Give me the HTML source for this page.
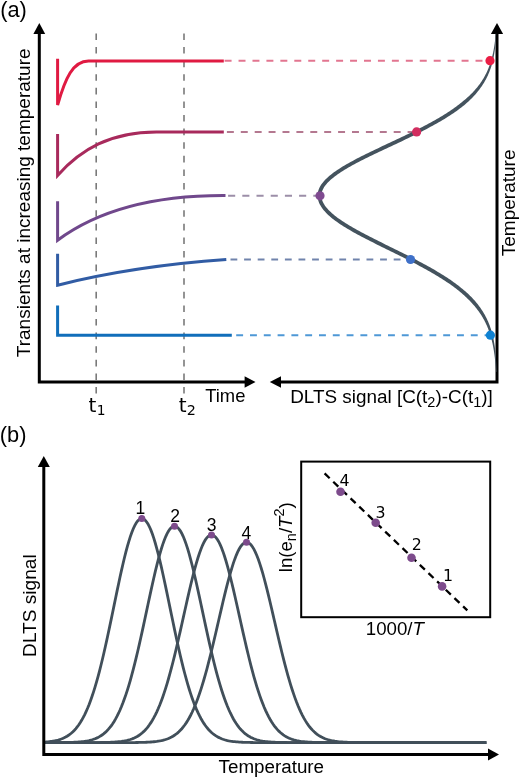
<!DOCTYPE html>
<html><head><meta charset="utf-8"><title>DLTS</title>
<style>
html,body{margin:0;padding:0;background:#fff;}
body{width:520px;height:778px;overflow:hidden;}
svg{display:block;}
text{font-family:"Liberation Sans",Arial,sans-serif;fill:#000;}
.dv{font-family:"DejaVu Sans",Verdana,sans-serif;}
</style></head><body>
<svg width="520" height="778" viewBox="0 0 520 778">
<rect width="520" height="778" fill="#fff"/>

<text x="0.2" y="16.9" font-size="21.8">(a)</text>
<text x="-0.2" y="442.2" font-size="21.8">(b)</text>
<line x1="96.2" y1="33.4" x2="96.2" y2="394.5" stroke="#7a7a7a" stroke-width="1.6" stroke-dasharray="6.6 7"/>
<line x1="184.0" y1="33.4" x2="184.0" y2="394.5" stroke="#7a7a7a" stroke-width="1.6" stroke-dasharray="6.6 7"/>
<line x1="224.6" y1="60.7" x2="490" y2="60.7" stroke="#E27590" stroke-width="2" stroke-dasharray="6.97 6.97"/>
<path d="M57.6,58.7 L57.6,105 C64.85,79.44 72.77,59.73 90,61 L223.8,61" fill="none" stroke="#E01A42" stroke-width="3" stroke-linejoin="miter" stroke-miterlimit="4"/>
<line x1="226.9" y1="131.9" x2="416.6" y2="131.9" stroke="#B47890" stroke-width="2" stroke-dasharray="6.95 6.95"/>
<path d="M57.6,134 L57.6,175.4 C80,150.23 110.23,131 160,132 L223.8,132" fill="none" stroke="#A82A5C" stroke-width="3" stroke-linejoin="miter" stroke-miterlimit="4"/>
<line x1="228.1" y1="195.8" x2="320" y2="195.8" stroke="#9C8EA8" stroke-width="2" stroke-dasharray="7.1 7.1"/>
<path d="M57.6,201.3 L57.6,240.3 C93.86,213.4 145.84,195.2 225.5,195.6" fill="none" stroke="#70488C" stroke-width="3" stroke-linejoin="miter" stroke-miterlimit="4"/>
<line x1="230.5" y1="259.5" x2="410.5" y2="259.5" stroke="#7083AC" stroke-width="2" stroke-dasharray="6.8 6.8"/>
<path d="M57.6,253.8 L57.6,285.2 C92,276.65 143.5,265.25 226.3,259.6" fill="none" stroke="#315CA4" stroke-width="3" stroke-linejoin="miter" stroke-miterlimit="4"/>
<line x1="236.2" y1="335.2" x2="490.4" y2="335.2" stroke="#4E98D6" stroke-width="2" stroke-dasharray="6.9 6.9"/>
<path d="M57.6,305.5 L57.6,335.2 L231.8,335.2" fill="none" stroke="#116EBA" stroke-width="3" stroke-linejoin="miter" stroke-miterlimit="4"/>
<path d="M39.3,33 L39.3,382 L246,382" fill="none" stroke="#000" stroke-width="3"/>
<polygon points="39.3,23 33.4,34 45.2,34" fill="#000"/>
<polygon points="255.5,382 244.6,376.2 244.6,387.8" fill="#000"/>
<path d="M497,33 L497,382 L280,382" fill="none" stroke="#000" stroke-width="3"/>
<polygon points="497,23 490.9,34 503.1,34" fill="#000"/>
<polygon points="269.8,382 281,376.2 281,387.8" fill="#000"/>
<path d="M496.17,33.51 L496.12,34.65 L496.06,35.78 L496,36.92 L495.94,38.05 L495.86,39.19 L495.79,40.33 L495.7,41.46 L495.61,42.6 L495.51,43.74 L495.4,44.88 L495.29,46.02 L495.16,47.16 L495.03,48.3 L494.88,49.44 L494.73,50.58 L494.57,51.72 L494.39,52.87 L494.2,54.01 L494,55.15 L493.79,56.3 L493.57,57.45 L493.33,58.59 L493.07,59.74 L492.8,60.89 L492.52,62.04 L492.22,63.19 L491.9,64.35 L491.56,65.5 L491.21,66.65 L490.83,67.81 L490.44,68.97 L490.02,70.12 L489.58,71.28 L489.12,72.44 L488.64,73.6 L488.13,74.76 L487.6,75.93 L487.04,77.09 L486.46,78.26 L485.85,79.42 L485.21,80.59 L484.55,81.75 L483.85,82.92 L483.13,84.09 L482.37,85.26 L481.58,86.43 L480.76,87.6 L479.91,88.77 L479.02,89.94 L478.1,91.11 L477.15,92.28 L476.16,93.45 L475.13,94.63 L474.07,95.8 L472.97,96.97 L471.83,98.14 L470.66,99.31 L469.44,100.48 L468.19,101.65 L466.9,102.82 L465.57,104 L464.2,105.16 L462.78,106.31 L461.31,107.46 L459.81,108.61 L458.26,109.75 L456.68,110.9 L455.06,112.04 L453.4,113.19 L451.7,114.33 L449.96,115.47 L448.18,116.62 L446.36,117.76 L444.51,118.9 L442.62,120.04 L440.69,121.18 L438.73,122.32 L436.73,123.46 L434.7,124.6 L432.64,125.74 L430.54,126.87 L428.41,128.01 L426.26,129.15 L424.07,130.29 L421.85,131.42 L419.61,132.56 L417.35,133.69 L415.06,134.83 L412.75,135.96 L410.42,137.1 L408.08,138.23 L405.72,139.37 L403.34,140.5 L400.95,141.64 L398.56,142.77 L396.15,143.9 L393.74,145.03 L391.33,146.17 L388.91,147.3 L386.5,148.43 L384.1,149.56 L381.7,150.69 L379.31,151.82 L376.93,152.95 L374.56,154.08 L372.22,155.21 L369.89,156.34 L367.59,157.47 L365.31,158.6 L363.07,159.73 L360.85,160.85 L358.67,161.98 L356.52,163.11 L354.42,164.23 L352.35,165.36 L350.34,166.48 L348.37,167.6 L346.45,168.72 L344.59,169.84 L342.78,170.96 L341.03,172.08 L339.34,173.19 L337.72,174.31 L336.16,175.42 L334.67,176.52 L333.26,177.63 L331.91,178.73 L330.64,179.83 L329.45,180.92 L328.34,182.01 L327.31,183.09 L326.36,184.17 L325.49,185.23 L324.71,186.29 L324.01,187.34 L323.4,188.38 L322.87,189.41 L322.42,190.43 L322.06,191.44 L321.77,192.44 L321.57,193.44 L321.45,194.42 L321.4,195.41 L321.43,196.4 L321.53,197.4 L321.7,198.4 L321.95,199.41 L322.27,200.43 L322.66,201.45 L323.13,202.48 L323.67,203.52 L324.29,204.57 L324.99,205.63 L325.76,206.7 L326.61,207.77 L327.54,208.85 L328.53,209.93 L329.61,211.02 L330.75,212.11 L331.96,213.21 L333.24,214.31 L334.59,215.42 L336,216.53 L337.47,217.64 L339.01,218.75 L340.6,219.86 L342.25,220.98 L343.95,222.1 L345.71,223.22 L347.51,224.34 L349.36,225.46 L351.26,226.58 L353.2,227.71 L355.18,228.83 L357.2,229.96 L359.25,231.08 L361.34,232.21 L363.46,233.34 L365.61,234.46 L367.78,235.59 L369.97,236.72 L372.19,237.85 L374.42,238.98 L376.67,240.11 L378.94,241.24 L381.21,242.37 L383.5,243.5 L385.79,244.63 L388.08,245.76 L390.38,246.9 L392.68,248.03 L394.98,249.16 L397.28,250.29 L399.56,251.43 L401.85,252.56 L404.12,253.69 L406.38,254.83 L408.62,255.96 L410.86,257.1 L413.07,258.23 L415.27,259.37 L417.45,260.5 L419.61,261.64 L421.74,262.77 L423.86,263.91 L425.94,265.05 L428,266.19 L430.04,267.32 L432.05,268.46 L434.02,269.6 L435.97,270.74 L437.89,271.88 L439.77,273.02 L441.63,274.16 L443.45,275.3 L445.23,276.44 L446.99,277.58 L448.71,278.72 L450.39,279.86 L452.04,281.01 L453.65,282.15 L455.23,283.3 L456.78,284.44 L458.28,285.59 L459.76,286.73 L461.19,287.88 L462.59,289.03 L463.96,290.17 L465.29,291.32 L466.58,292.47 L467.84,293.62 L469.06,294.77 L470.25,295.93 L471.41,297.08 L472.53,298.23 L473.62,299.38 L474.67,300.54 L475.67,301.71 L476.64,302.88 L477.58,304.06 L478.48,305.23 L479.35,306.4 L480.19,307.57 L481,308.75 L481.78,309.92 L482.53,311.09 L483.26,312.26 L483.95,313.43 L484.62,314.6 L485.26,315.77 L485.87,316.93 L486.46,318.1 L487.03,319.27 L487.57,320.43 L488.08,321.6 L488.58,322.76 L489.05,323.92 L489.5,325.09 L489.93,326.25 L490.34,327.41 L490.73,328.56 L491.1,329.72 L491.45,330.88 L491.79,332.03 L492.11,333.19 L492.41,334.34 L492.7,335.49 L492.97,336.65 L493.22,337.8 L493.47,338.94 L493.7,340.09 L493.91,341.24 L494.12,342.39 L494.31,343.53 L494.49,344.68 L494.66,345.82 L494.83,346.97 L494.98,348.11 L495.12,349.25 L495.25,350.39 L495.37,351.53 L495.49,352.67 L495.59,353.81 L495.69,354.95 L495.79,356.09 L495.87,357.23 L495.95,358.37 L496.03,359.5 L496.09,360.64 L496.15,361.78 L496.21,362.91 L496.26,364.05 L496.31,365.18 L496.35,366.32 L496.39,367.45 L496.43,368.59 L496.46,369.72 L496.48,370.86 L496.51,371.99 L496.11,372.01 L496.03,370.88 L495.95,369.75 L495.86,368.62 L495.77,367.49 L495.68,366.36 L495.58,365.23 L495.48,364.1 L495.37,362.97 L495.26,361.85 L495.15,360.72 L495.02,359.59 L494.9,358.46 L494.76,357.34 L494.62,356.21 L494.48,355.08 L494.32,353.96 L494.16,352.83 L493.99,351.71 L493.82,350.59 L493.63,349.46 L493.44,348.34 L493.24,347.22 L493.02,346.1 L492.8,344.98 L492.57,343.86 L492.32,342.74 L492.07,341.63 L491.8,340.51 L491.52,339.39 L491.23,338.28 L490.93,337.16 L490.61,336.05 L490.28,334.94 L489.93,333.83 L489.57,332.72 L489.19,331.61 L488.79,330.5 L488.38,329.4 L487.95,328.29 L487.5,327.18 L487.04,326.08 L486.55,324.98 L486.05,323.88 L485.52,322.78 L484.97,321.68 L484.41,320.58 L483.82,319.48 L483.2,318.38 L482.56,317.29 L481.9,316.19 L481.22,315.1 L480.5,314 L479.76,312.91 L479,311.82 L478.21,310.72 L477.39,309.63 L476.54,308.54 L475.66,307.45 L474.75,306.36 L473.81,305.26 L472.84,304.17 L471.84,303.08 L470.83,301.97 L469.78,300.86 L468.7,299.75 L467.59,298.64 L466.44,297.52 L465.26,296.41 L464.04,295.3 L462.78,294.18 L461.49,293.07 L460.17,291.95 L458.8,290.83 L457.4,289.72 L455.97,288.6 L454.5,287.48 L452.99,286.36 L451.44,285.24 L449.86,284.12 L448.24,283 L446.59,281.88 L444.9,280.75 L443.17,279.63 L441.42,278.51 L439.62,277.39 L437.79,276.26 L435.93,275.14 L434.04,274.01 L432.12,272.89 L430.16,271.76 L428.17,270.63 L426.16,269.51 L424.12,268.38 L422.05,267.25 L419.95,266.13 L417.83,265 L415.69,263.87 L413.52,262.74 L411.33,261.61 L409.13,260.48 L406.91,259.35 L404.67,258.22 L402.42,257.09 L400.15,255.96 L397.88,254.83 L395.59,253.7 L393.3,252.57 L391,251.44 L388.71,250.3 L386.41,249.17 L384.11,248.04 L381.81,246.91 L379.52,245.77 L377.24,244.64 L374.97,243.51 L372.71,242.37 L370.47,241.24 L368.24,240.1 L366.03,238.97 L363.85,237.83 L361.68,236.69 L359.55,235.56 L357.44,234.42 L355.36,233.28 L353.32,232.14 L351.31,231 L349.34,229.86 L347.41,228.72 L345.53,227.58 L343.68,226.43 L341.89,225.29 L340.14,224.14 L338.44,223 L336.8,221.85 L335.21,220.69 L333.68,219.54 L332.21,218.38 L330.8,217.22 L329.44,216.06 L328.16,214.9 L326.94,213.73 L325.78,212.55 L324.7,211.37 L323.68,210.19 L322.74,208.99 L321.87,207.79 L321.07,206.59 L320.35,205.37 L319.71,204.15 L319.15,202.92 L318.68,201.68 L318.29,200.43 L317.98,199.17 L317.76,197.91 L317.64,196.65 L317.6,195.37 L317.66,194.1 L317.82,192.82 L318.08,191.55 L318.44,190.28 L318.89,189.03 L319.43,187.78 L320.07,186.55 L320.79,185.32 L321.6,184.11 L322.49,182.91 L323.46,181.71 L324.51,180.52 L325.64,179.34 L326.84,178.16 L328.12,176.99 L329.46,175.82 L330.88,174.66 L332.37,173.5 L333.92,172.35 L335.54,171.19 L337.22,170.04 L338.96,168.89 L340.76,167.74 L342.61,166.6 L344.51,165.45 L346.47,164.31 L348.47,163.17 L350.52,162.03 L352.61,160.89 L354.74,159.75 L356.91,158.61 L359.12,157.47 L361.35,156.34 L363.62,155.2 L365.91,154.06 L368.23,152.93 L370.56,151.79 L372.92,150.66 L375.29,149.52 L377.68,148.39 L380.07,147.26 L382.48,146.12 L384.89,144.99 L387.3,143.86 L389.71,142.73 L392.13,141.59 L394.53,140.46 L396.93,139.33 L399.33,138.2 L401.71,137.07 L404.08,135.94 L406.43,134.81 L408.76,133.68 L411.08,132.55 L413.38,131.42 L415.65,130.29 L417.9,129.16 L420.13,128.04 L422.32,126.91 L424.49,125.78 L426.63,124.65 L428.74,123.53 L430.81,122.4 L432.86,121.28 L434.86,120.15 L436.84,119.03 L438.77,117.9 L440.67,116.78 L442.53,115.65 L444.36,114.53 L446.14,113.41 L447.89,112.29 L449.59,111.17 L451.26,110.04 L452.88,108.92 L454.47,107.81 L456.02,106.69 L457.52,105.57 L458.99,104.45 L460.41,103.33 L461.8,102.22 L463.16,101.12 L464.48,100.03 L465.77,98.93 L467.01,97.84 L468.22,96.75 L469.4,95.66 L470.53,94.56 L471.63,93.47 L472.7,92.38 L473.73,91.28 L474.72,90.19 L475.68,89.1 L476.61,88.01 L477.5,86.91 L478.37,85.82 L479.2,84.72 L480,83.63 L480.77,82.53 L481.52,81.44 L482.23,80.34 L482.92,79.25 L483.58,78.15 L484.22,77.05 L484.83,75.95 L485.42,74.85 L485.98,73.75 L486.52,72.64 L487.04,71.54 L487.54,70.44 L488.01,69.33 L488.47,68.23 L488.9,67.12 L489.32,66.01 L489.72,64.9 L490.1,63.79 L490.46,62.68 L490.81,61.56 L491.14,60.45 L491.46,59.33 L491.76,58.22 L492.05,57.1 L492.33,55.98 L492.59,54.87 L492.84,53.75 L493.08,52.63 L493.3,51.5 L493.52,50.38 L493.73,49.26 L493.92,48.14 L494.11,47.01 L494.29,45.89 L494.46,44.76 L494.62,43.64 L494.77,42.51 L494.92,41.38 L495.06,40.26 L495.19,39.13 L495.32,38 L495.44,36.87 L495.55,35.75 L495.66,34.62 L495.77,33.49 Z" fill="#44535E"/>
<circle cx="490.0" cy="60.7" r="4.6" fill="#EA1E45"/>
<circle cx="416.6" cy="131.9" r="4.6" fill="#D22E60"/>
<circle cx="320.0" cy="195.8" r="4.6" fill="#7F4A90"/>
<circle cx="410.5" cy="259.5" r="4.6" fill="#3F70C8"/>
<circle cx="490.4" cy="335.2" r="4.6" fill="#0F82D2"/>
<text transform="translate(30.4,357.2) rotate(-90)" font-size="19.0">Transients at increasing temperature</text>
<text transform="translate(515.2,256.2) rotate(-90)" font-size="19">Temperature</text>
<text x="205.2" y="402.2" font-size="18.4">Time</text>
<text x="290.2" y="403.2" font-size="18.9">DLTS signal [C(t<tspan font-size="14.5" dy="3.8">2</tspan><tspan dy="-3.8">)-C(t</tspan><tspan font-size="14.5" dy="3.8">1</tspan><tspan dy="-3.8">)]</tspan></text>
<text class="dv" x="88.4" y="411.8" font-size="20">t<tspan font-size="13.8" dy="3" dx="0.5">1</tspan></text>
<text class="dv" x="178.8" y="411.5" font-size="20">t<tspan font-size="14.3" dy="3.3" dx="0.2">2</tspan></text>
<path d="M45,742.03 L46.47,741.92 L47.94,741.79 L49.41,741.63 L50.88,741.45 L52.36,741.24 L53.83,740.99 L55.3,740.7 L56.77,740.37 L58.24,739.99 L59.71,739.55 L61.18,739.05 L62.65,738.48 L64.12,737.82 L65.59,737.08 L67.06,736.24 L68.54,735.3 L70.01,734.23 L71.48,733.04 L72.95,731.7 L74.42,730.22 L75.89,728.57 L77.36,726.74 L78.83,724.73 L80.3,722.52 L81.78,720.09 L83.25,717.44 L84.72,714.56 L86.19,711.44 L87.66,708.06 L89.13,704.42 L90.6,700.51 L92.07,696.33 L93.54,691.87 L95.01,687.14 L96.48,682.14 L97.96,676.86 L99.43,671.32 L100.9,665.53 L102.37,659.5 L103.84,653.24 L105.31,646.78 L106.78,640.13 L108.25,633.32 L109.72,626.38 L111.19,619.34 L112.67,612.24 L114.14,605.1 L115.61,597.98 L117.08,590.9 L118.55,583.92 L120.02,577.07 L121.49,570.41 L122.96,563.96 L124.43,557.79 L125.91,551.94 L127.38,546.43 L128.85,541.33 L130.32,536.66 L131.79,532.47 L133.26,528.78 L134.73,525.63 L136.2,523.03 L137.67,521.02 L139.14,519.61 L140.62,518.8 L142.09,518.61 L143.56,519.04 L145.03,520.08 L146.5,521.73 L147.97,523.97 L149.44,526.79 L150.91,530.15 L152.38,534.04 L153.85,538.42 L155.32,543.27 L156.8,548.53 L158.27,554.17 L159.74,560.16 L161.21,566.44 L162.68,572.97 L164.15,579.71 L165.62,586.62 L167.09,593.64 L168.56,600.74 L170.03,607.88 L171.51,615 L172.98,622.09 L174.45,629.09 L175.92,635.98 L177.39,642.73 L178.86,649.31 L180.33,655.7 L181.8,661.87 L183.27,667.81 L184.75,673.51 L186.22,678.94 L187.69,684.11 L189.16,689.01 L190.63,693.64 L192.1,697.99 L193.57,702.06 L195.04,705.86 L196.51,709.4 L197.98,712.68 L199.46,715.71 L200.93,718.5 L202.4,721.06 L203.87,723.4 L205.34,725.54 L206.81,727.48 L208.28,729.23 L209.75,730.81 L211.22,732.24 L212.69,733.52 L214.16,734.66 L215.64,735.68 L217.11,736.58 L218.58,737.38 L220.05,738.09 L221.52,738.71 L222.99,739.25 L224.46,739.73 L225.93,740.15 L227.4,740.51 L228.88,740.82 L230.35,741.09 L231.82,741.32 L233.29,741.52 L234.76,741.69 L236.23,741.84 L237.7,741.96 L239.17,742.07 L240.64,742.16 L242.11,742.23 L243.59,742.3 L245.06,742.35 L246.53,742.39 L248,742.43 L249.47,742.46 L250.94,742.49 L252.41,742.51 L253.88,742.53 L255.35,742.54 L256.82,742.55 L258.29,742.56 L259.77,742.57 L261.24,742.57 L262.71,742.58 L264.18,742.58 L265.65,742.59 L267.12,742.59 L268.59,742.59 L270.06,742.59 L271.53,742.6 L273,742.6 L274.48,742.6 L275.95,742.6 L277.42,742.6 L278.89,742.6 L280.36,742.6 L281.83,742.6 L283.3,742.6 L284.77,742.6 L286.24,742.6 L287.72,742.6 L289.19,742.6 L290.66,742.6 L292.13,742.6 L293.6,742.6 L295.07,742.6 L296.54,742.6 L298.01,742.6 L299.48,742.6 L300.95,742.6 L302.43,742.6 L303.9,742.6 L305.37,742.6 L306.84,742.6 L308.31,742.6 L309.78,742.6 L311.25,742.6 L312.72,742.6 L314.19,742.6 L315.66,742.6 L317.13,742.6 L318.61,742.6 L320.08,742.6 L321.55,742.6 L323.02,742.6 L324.49,742.6 L325.96,742.6 L327.43,742.6 L328.9,742.6 L330.37,742.6 L331.85,742.6 L333.32,742.6 L334.79,742.6 L336.26,742.6 L337.73,742.6 L339.2,742.6 L340.67,742.6 L342.14,742.6 L343.61,742.6 L345.08,742.6 L346.56,742.6 L348.03,742.6 L349.5,742.6 L350.97,742.6 L352.44,742.6 L353.91,742.6 L355.38,742.6 L356.85,742.6 L358.32,742.6 L359.79,742.6 L361.26,742.6 L362.74,742.6 L364.21,742.6 L365.68,742.6 L367.15,742.6 L368.62,742.6 L370.09,742.6 L371.56,742.6 L373.03,742.6 L374.5,742.6 L375.98,742.6 L377.45,742.6 L378.92,742.6 L380.39,742.6 L381.86,742.6 L383.33,742.6 L384.8,742.6 L386.27,742.6 L387.74,742.6 L389.21,742.6 L390.69,742.6 L392.16,742.6 L393.63,742.6 L395.1,742.6 L396.57,742.6 L398.04,742.6 L399.51,742.6 L400.98,742.6 L402.45,742.6 L403.92,742.6 L405.39,742.6 L406.87,742.6 L408.34,742.6 L409.81,742.6 L411.28,742.6 L412.75,742.6 L414.22,742.6 L415.69,742.6 L417.16,742.6 L418.63,742.6 L420.11,742.6 L421.58,742.6 L423.05,742.6 L424.52,742.6 L425.99,742.6 L427.46,742.6 L428.93,742.6 L430.4,742.6 L431.87,742.6 L433.34,742.6 L434.81,742.6 L436.29,742.6 L437.76,742.6 L439.23,742.6 L440.7,742.6 L442.17,742.6 L443.64,742.6 L445.11,742.6 L446.58,742.6 L448.05,742.6 L449.52,742.6 L451,742.6 L452.47,742.6 L453.94,742.6 L455.41,742.6 L456.88,742.6 L458.35,742.6 L459.82,742.6 L461.29,742.6 L462.76,742.6 L464.24,742.6 L465.71,742.6 L467.18,742.6 L468.65,742.6 L470.12,742.6 L471.59,742.6 L473.06,742.6 L474.53,742.6 L476,742.6 L477.47,742.6 L478.94,742.6 L480.42,742.6 L481.89,742.6 L483.36,742.6 L484.83,742.6 L486.3,742.6" fill="none" stroke="#414F5A" stroke-width="2.8"/>
<path d="M45,742.6 L46.47,742.59 L47.94,742.59 L49.41,742.59 L50.88,742.59 L52.36,742.58 L53.83,742.58 L55.3,742.57 L56.77,742.57 L58.24,742.56 L59.71,742.55 L61.18,742.54 L62.65,742.53 L64.12,742.51 L65.59,742.49 L67.06,742.46 L68.54,742.43 L70.01,742.4 L71.48,742.35 L72.95,742.3 L74.42,742.24 L75.89,742.16 L77.36,742.07 L78.83,741.97 L80.3,741.85 L81.78,741.7 L83.25,741.53 L84.72,741.33 L86.19,741.1 L87.66,740.84 L89.13,740.53 L90.6,740.17 L92.07,739.76 L93.54,739.29 L95.01,738.75 L96.48,738.14 L97.96,737.44 L99.43,736.65 L100.9,735.76 L102.37,734.76 L103.84,733.64 L105.31,732.38 L106.78,730.98 L108.25,729.43 L109.72,727.7 L111.19,725.8 L112.67,723.71 L114.14,721.41 L115.61,718.91 L117.08,716.17 L118.55,713.21 L120.02,710 L121.49,706.54 L122.96,702.83 L124.43,698.85 L125.91,694.61 L127.38,690.1 L128.85,685.32 L130.32,680.29 L131.79,674.99 L133.26,669.45 L134.73,663.68 L136.2,657.68 L137.67,651.48 L139.14,645.09 L140.62,638.55 L142.09,631.87 L143.56,625.09 L145.03,618.24 L146.5,611.35 L147.97,604.46 L149.44,597.61 L150.91,590.84 L152.38,584.19 L153.85,577.71 L155.32,571.43 L156.8,565.41 L158.27,559.68 L159.74,554.28 L161.21,549.26 L162.68,544.65 L164.15,540.49 L165.62,536.81 L167.09,533.64 L168.56,531.01 L170.03,528.93 L171.51,527.43 L172.98,526.52 L174.45,526.2 L175.92,526.48 L177.39,527.35 L178.86,528.81 L180.33,530.84 L181.8,533.44 L183.27,536.57 L184.75,540.21 L186.22,544.34 L187.69,548.92 L189.16,553.91 L190.63,559.28 L192.1,564.99 L193.57,571 L195.04,577.26 L196.51,583.73 L197.98,590.37 L199.46,597.13 L200.93,603.98 L202.4,610.86 L203.87,617.75 L205.34,624.61 L206.81,631.4 L208.28,638.08 L209.75,644.64 L211.22,651.03 L212.69,657.25 L214.16,663.26 L215.64,669.05 L217.11,674.61 L218.58,679.92 L220.05,684.97 L221.52,689.77 L222.99,694.3 L224.46,698.56 L225.93,702.55 L227.4,706.29 L228.88,709.76 L230.35,712.99 L231.82,715.97 L233.29,718.72 L234.76,721.24 L236.23,723.55 L237.7,725.66 L239.17,727.57 L240.64,729.31 L242.11,730.88 L243.59,732.29 L245.06,733.55 L246.53,734.69 L248,735.7 L249.47,736.59 L250.94,737.39 L252.41,738.09 L253.88,738.71 L255.35,739.25 L256.82,739.73 L258.29,740.14 L259.77,740.5 L261.24,740.82 L262.71,741.09 L264.18,741.32 L265.65,741.52 L267.12,741.69 L268.59,741.84 L270.06,741.96 L271.53,742.07 L273,742.16 L274.48,742.23 L275.95,742.29 L277.42,742.35 L278.89,742.39 L280.36,742.43 L281.83,742.46 L283.3,742.49 L284.77,742.51 L286.24,742.52 L287.72,742.54 L289.19,742.55 L290.66,742.56 L292.13,742.57 L293.6,742.57 L295.07,742.58 L296.54,742.58 L298.01,742.59 L299.48,742.59 L300.95,742.59 L302.43,742.59 L303.9,742.6 L305.37,742.6 L306.84,742.6 L308.31,742.6 L309.78,742.6 L311.25,742.6 L312.72,742.6 L314.19,742.6 L315.66,742.6 L317.13,742.6 L318.61,742.6 L320.08,742.6 L321.55,742.6 L323.02,742.6 L324.49,742.6 L325.96,742.6 L327.43,742.6 L328.9,742.6 L330.37,742.6 L331.85,742.6 L333.32,742.6 L334.79,742.6 L336.26,742.6 L337.73,742.6 L339.2,742.6 L340.67,742.6 L342.14,742.6 L343.61,742.6 L345.08,742.6 L346.56,742.6 L348.03,742.6 L349.5,742.6 L350.97,742.6 L352.44,742.6 L353.91,742.6 L355.38,742.6 L356.85,742.6 L358.32,742.6 L359.79,742.6 L361.26,742.6 L362.74,742.6 L364.21,742.6 L365.68,742.6 L367.15,742.6 L368.62,742.6 L370.09,742.6 L371.56,742.6 L373.03,742.6 L374.5,742.6 L375.98,742.6 L377.45,742.6 L378.92,742.6 L380.39,742.6 L381.86,742.6 L383.33,742.6 L384.8,742.6 L386.27,742.6 L387.74,742.6 L389.21,742.6 L390.69,742.6 L392.16,742.6 L393.63,742.6 L395.1,742.6 L396.57,742.6 L398.04,742.6 L399.51,742.6 L400.98,742.6 L402.45,742.6 L403.92,742.6 L405.39,742.6 L406.87,742.6 L408.34,742.6 L409.81,742.6 L411.28,742.6 L412.75,742.6 L414.22,742.6 L415.69,742.6 L417.16,742.6 L418.63,742.6 L420.11,742.6 L421.58,742.6 L423.05,742.6 L424.52,742.6 L425.99,742.6 L427.46,742.6 L428.93,742.6 L430.4,742.6 L431.87,742.6 L433.34,742.6 L434.81,742.6 L436.29,742.6 L437.76,742.6 L439.23,742.6 L440.7,742.6 L442.17,742.6 L443.64,742.6 L445.11,742.6 L446.58,742.6 L448.05,742.6 L449.52,742.6 L451,742.6 L452.47,742.6 L453.94,742.6 L455.41,742.6 L456.88,742.6 L458.35,742.6 L459.82,742.6 L461.29,742.6 L462.76,742.6 L464.24,742.6 L465.71,742.6 L467.18,742.6 L468.65,742.6 L470.12,742.6 L471.59,742.6 L473.06,742.6 L474.53,742.6 L476,742.6 L477.47,742.6 L478.94,742.6 L480.42,742.6 L481.89,742.6 L483.36,742.6 L484.83,742.6 L486.3,742.6" fill="none" stroke="#414F5A" stroke-width="2.8"/>
<path d="M45,742.6 L46.47,742.6 L47.94,742.6 L49.41,742.6 L50.88,742.6 L52.36,742.6 L53.83,742.6 L55.3,742.6 L56.77,742.6 L58.24,742.6 L59.71,742.6 L61.18,742.6 L62.65,742.6 L64.12,742.6 L65.59,742.6 L67.06,742.6 L68.54,742.6 L70.01,742.6 L71.48,742.6 L72.95,742.6 L74.42,742.6 L75.89,742.6 L77.36,742.6 L78.83,742.6 L80.3,742.6 L81.78,742.6 L83.25,742.59 L84.72,742.59 L86.19,742.59 L87.66,742.59 L89.13,742.59 L90.6,742.58 L92.07,742.58 L93.54,742.57 L95.01,742.56 L96.48,742.55 L97.96,742.54 L99.43,742.53 L100.9,742.52 L102.37,742.5 L103.84,742.47 L105.31,742.44 L106.78,742.41 L108.25,742.37 L109.72,742.32 L111.19,742.26 L112.67,742.19 L114.14,742.11 L115.61,742.01 L117.08,741.9 L118.55,741.76 L120.02,741.6 L121.49,741.42 L122.96,741.2 L124.43,740.95 L125.91,740.66 L127.38,740.32 L128.85,739.94 L130.32,739.5 L131.79,738.99 L133.26,738.41 L134.73,737.76 L136.2,737.01 L137.67,736.18 L139.14,735.23 L140.62,734.17 L142.09,732.99 L143.56,731.66 L145.03,730.19 L146.5,728.57 L147.97,726.77 L149.44,724.79 L150.91,722.62 L152.38,720.24 L153.85,717.65 L155.32,714.84 L156.8,711.8 L158.27,708.52 L159.74,704.99 L161.21,701.21 L162.68,697.17 L164.15,692.89 L165.62,688.34 L167.09,683.55 L168.56,678.5 L170.03,673.22 L171.51,667.71 L172.98,661.99 L174.45,656.06 L175.92,649.96 L177.39,643.7 L178.86,637.31 L180.33,630.82 L181.8,624.25 L183.27,617.64 L184.75,611.03 L186.22,604.44 L187.69,597.93 L189.16,591.53 L190.63,585.28 L192.1,579.22 L193.57,573.4 L195.04,567.85 L196.51,562.62 L197.98,557.74 L199.46,553.26 L200.93,549.19 L202.4,545.59 L203.87,542.47 L205.34,539.87 L206.81,537.79 L208.28,536.27 L209.75,535.3 L211.22,534.91 L212.69,535.09 L214.16,535.84 L215.64,537.15 L217.11,539.02 L218.58,541.43 L220.05,544.36 L221.52,547.78 L222.99,551.67 L224.46,556 L225.93,560.74 L227.4,565.84 L228.88,571.27 L230.35,577 L231.82,582.97 L233.29,589.16 L234.76,595.5 L236.23,601.98 L237.7,608.54 L239.17,615.15 L240.64,621.76 L242.11,628.35 L243.59,634.88 L245.06,641.31 L246.53,647.62 L248,653.79 L249.47,659.78 L250.94,665.58 L252.41,671.17 L253.88,676.54 L255.35,681.68 L256.82,686.56 L258.29,691.2 L259.77,695.59 L261.24,699.72 L262.71,703.59 L264.18,707.22 L265.65,710.59 L267.12,713.72 L268.59,716.62 L270.06,719.29 L271.53,721.75 L273,723.99 L274.48,726.04 L275.95,727.91 L277.42,729.6 L278.89,731.13 L280.36,732.5 L281.83,733.74 L283.3,734.85 L284.77,735.83 L286.24,736.71 L287.72,737.49 L289.19,738.18 L290.66,738.78 L292.13,739.31 L293.6,739.78 L295.07,740.18 L296.54,740.54 L298.01,740.84 L299.48,741.11 L300.95,741.34 L302.43,741.53 L303.9,741.7 L305.37,741.85 L306.84,741.97 L308.31,742.07 L309.78,742.16 L311.25,742.24 L312.72,742.3 L314.19,742.35 L315.66,742.39 L317.13,742.43 L318.61,742.46 L320.08,742.49 L321.55,742.51 L323.02,742.53 L324.49,742.54 L325.96,742.55 L327.43,742.56 L328.9,742.57 L330.37,742.57 L331.85,742.58 L333.32,742.58 L334.79,742.59 L336.26,742.59 L337.73,742.59 L339.2,742.59 L340.67,742.6 L342.14,742.6 L343.61,742.6 L345.08,742.6 L346.56,742.6 L348.03,742.6 L349.5,742.6 L350.97,742.6 L352.44,742.6 L353.91,742.6 L355.38,742.6 L356.85,742.6 L358.32,742.6 L359.79,742.6 L361.26,742.6 L362.74,742.6 L364.21,742.6 L365.68,742.6 L367.15,742.6 L368.62,742.6 L370.09,742.6 L371.56,742.6 L373.03,742.6 L374.5,742.6 L375.98,742.6 L377.45,742.6 L378.92,742.6 L380.39,742.6 L381.86,742.6 L383.33,742.6 L384.8,742.6 L386.27,742.6 L387.74,742.6 L389.21,742.6 L390.69,742.6 L392.16,742.6 L393.63,742.6 L395.1,742.6 L396.57,742.6 L398.04,742.6 L399.51,742.6 L400.98,742.6 L402.45,742.6 L403.92,742.6 L405.39,742.6 L406.87,742.6 L408.34,742.6 L409.81,742.6 L411.28,742.6 L412.75,742.6 L414.22,742.6 L415.69,742.6 L417.16,742.6 L418.63,742.6 L420.11,742.6 L421.58,742.6 L423.05,742.6 L424.52,742.6 L425.99,742.6 L427.46,742.6 L428.93,742.6 L430.4,742.6 L431.87,742.6 L433.34,742.6 L434.81,742.6 L436.29,742.6 L437.76,742.6 L439.23,742.6 L440.7,742.6 L442.17,742.6 L443.64,742.6 L445.11,742.6 L446.58,742.6 L448.05,742.6 L449.52,742.6 L451,742.6 L452.47,742.6 L453.94,742.6 L455.41,742.6 L456.88,742.6 L458.35,742.6 L459.82,742.6 L461.29,742.6 L462.76,742.6 L464.24,742.6 L465.71,742.6 L467.18,742.6 L468.65,742.6 L470.12,742.6 L471.59,742.6 L473.06,742.6 L474.53,742.6 L476,742.6 L477.47,742.6 L478.94,742.6 L480.42,742.6 L481.89,742.6 L483.36,742.6 L484.83,742.6 L486.3,742.6" fill="none" stroke="#414F5A" stroke-width="2.8"/>
<path d="M45,742.6 L46.47,742.6 L47.94,742.6 L49.41,742.6 L50.88,742.6 L52.36,742.6 L53.83,742.6 L55.3,742.6 L56.77,742.6 L58.24,742.6 L59.71,742.6 L61.18,742.6 L62.65,742.6 L64.12,742.6 L65.59,742.6 L67.06,742.6 L68.54,742.6 L70.01,742.6 L71.48,742.6 L72.95,742.6 L74.42,742.6 L75.89,742.6 L77.36,742.6 L78.83,742.6 L80.3,742.6 L81.78,742.6 L83.25,742.6 L84.72,742.6 L86.19,742.6 L87.66,742.6 L89.13,742.6 L90.6,742.6 L92.07,742.6 L93.54,742.6 L95.01,742.6 L96.48,742.6 L97.96,742.6 L99.43,742.6 L100.9,742.6 L102.37,742.6 L103.84,742.6 L105.31,742.6 L106.78,742.6 L108.25,742.6 L109.72,742.6 L111.19,742.6 L112.67,742.6 L114.14,742.6 L115.61,742.6 L117.08,742.6 L118.55,742.59 L120.02,742.59 L121.49,742.59 L122.96,742.59 L124.43,742.59 L125.91,742.58 L127.38,742.58 L128.85,742.57 L130.32,742.56 L131.79,742.55 L133.26,742.54 L134.73,742.53 L136.2,742.51 L137.67,742.49 L139.14,742.47 L140.62,742.44 L142.09,742.41 L143.56,742.37 L145.03,742.32 L146.5,742.26 L147.97,742.19 L149.44,742.11 L150.91,742.01 L152.38,741.89 L153.85,741.76 L155.32,741.6 L156.8,741.42 L158.27,741.2 L159.74,740.95 L161.21,740.66 L162.68,740.33 L164.15,739.95 L165.62,739.51 L167.09,739.01 L168.56,738.44 L170.03,737.79 L171.51,737.05 L172.98,736.23 L174.45,735.29 L175.92,734.25 L177.39,733.08 L178.86,731.77 L180.33,730.32 L181.8,728.72 L183.27,726.95 L184.75,725 L186.22,722.87 L187.69,720.54 L189.16,718 L190.63,715.24 L192.1,712.26 L193.57,709.05 L195.04,705.59 L196.51,701.9 L197.98,697.96 L199.46,693.77 L200.93,689.34 L202.4,684.66 L203.87,679.75 L205.34,674.61 L206.81,669.26 L208.28,663.69 L209.75,657.95 L211.22,652.03 L212.69,645.96 L214.16,639.78 L215.64,633.5 L217.11,627.15 L218.58,620.77 L220.05,614.4 L221.52,608.06 L222.99,601.8 L224.46,595.65 L225.93,589.66 L227.4,583.86 L228.88,578.3 L230.35,573.01 L231.82,568.03 L233.29,563.4 L234.76,559.16 L236.23,555.33 L237.7,551.95 L239.17,549.04 L240.64,546.63 L242.11,544.74 L243.59,543.38 L245.06,542.57 L246.53,542.3 L248,542.59 L249.47,543.42 L250.94,544.8 L252.41,546.71 L253.88,549.14 L255.35,552.07 L256.82,555.46 L258.29,559.31 L259.77,563.57 L261.24,568.21 L262.71,573.2 L264.18,578.5 L265.65,584.07 L267.12,589.88 L268.59,595.88 L270.06,602.03 L271.53,608.29 L273,614.63 L274.48,621.01 L275.95,627.38 L277.42,633.73 L278.89,640.01 L280.36,646.19 L281.83,652.25 L283.3,658.16 L284.77,663.9 L286.24,669.46 L287.72,674.81 L289.19,679.94 L290.66,684.84 L292.13,689.51 L293.6,693.93 L295.07,698.11 L296.54,702.04 L298.01,705.72 L299.48,709.17 L300.95,712.37 L302.43,715.35 L303.9,718.1 L305.37,720.63 L306.84,722.95 L308.31,725.08 L309.78,727.02 L311.25,728.78 L312.72,730.38 L314.19,731.82 L315.66,733.12 L317.13,734.29 L318.61,735.33 L320.08,736.26 L321.55,737.08 L323.02,737.81 L324.49,738.46 L325.96,739.03 L327.43,739.53 L328.9,739.96 L330.37,740.34 L331.85,740.68 L333.32,740.96 L334.79,741.21 L336.26,741.42 L337.73,741.61 L339.2,741.77 L340.67,741.9 L342.14,742.01 L343.61,742.11 L345.08,742.19 L346.56,742.26 L348.03,742.32 L349.5,742.37 L350.97,742.41 L352.44,742.44 L353.91,742.47 L355.38,742.5 L356.85,742.52 L358.32,742.53 L359.79,742.54 L361.26,742.55 L362.74,742.56 L364.21,742.57 L365.68,742.58 L367.15,742.58 L368.62,742.59 L370.09,742.59 L371.56,742.59 L373.03,742.59 L374.5,742.59 L375.98,742.6 L377.45,742.6 L378.92,742.6 L380.39,742.6 L381.86,742.6 L383.33,742.6 L384.8,742.6 L386.27,742.6 L387.74,742.6 L389.21,742.6 L390.69,742.6 L392.16,742.6 L393.63,742.6 L395.1,742.6 L396.57,742.6 L398.04,742.6 L399.51,742.6 L400.98,742.6 L402.45,742.6 L403.92,742.6 L405.39,742.6 L406.87,742.6 L408.34,742.6 L409.81,742.6 L411.28,742.6 L412.75,742.6 L414.22,742.6 L415.69,742.6 L417.16,742.6 L418.63,742.6 L420.11,742.6 L421.58,742.6 L423.05,742.6 L424.52,742.6 L425.99,742.6 L427.46,742.6 L428.93,742.6 L430.4,742.6 L431.87,742.6 L433.34,742.6 L434.81,742.6 L436.29,742.6 L437.76,742.6 L439.23,742.6 L440.7,742.6 L442.17,742.6 L443.64,742.6 L445.11,742.6 L446.58,742.6 L448.05,742.6 L449.52,742.6 L451,742.6 L452.47,742.6 L453.94,742.6 L455.41,742.6 L456.88,742.6 L458.35,742.6 L459.82,742.6 L461.29,742.6 L462.76,742.6 L464.24,742.6 L465.71,742.6 L467.18,742.6 L468.65,742.6 L470.12,742.6 L471.59,742.6 L473.06,742.6 L474.53,742.6 L476,742.6 L477.47,742.6 L478.94,742.6 L480.42,742.6 L481.89,742.6 L483.36,742.6 L484.83,742.6 L486.3,742.6" fill="none" stroke="#414F5A" stroke-width="2.8"/>
<circle cx="141.8" cy="518.6" r="3.5" fill="#7D4B8C"/>
<circle cx="174.5" cy="526.2" r="3.5" fill="#7D4B8C"/>
<circle cx="211.5" cy="534.9" r="3.5" fill="#7D4B8C"/>
<circle cx="246.5" cy="542.3" r="3.5" fill="#7D4B8C"/>
<text x="140.4" y="514.0" font-size="17.5" text-anchor="middle">1</text>
<text x="175.0" y="522.2" font-size="17.5" text-anchor="middle">2</text>
<text x="211.5" y="530.8" font-size="17.5" text-anchor="middle">3</text>
<text x="246.3" y="538.5" font-size="17.5" text-anchor="middle">4</text>
<path d="M43.8,466 L43.8,754.5 L489,754.5" fill="none" stroke="#000" stroke-width="3"/>
<polygon points="43.8,456 37.8,467 49.8,467" fill="#000"/>
<polygon points="499,754.5 488,748.6 488,760.4" fill="#000"/>
<text transform="translate(36.2,656.9) rotate(-90)" font-size="19.1">DLTS signal</text>
<text x="218.6" y="773" font-size="18.8">Temperature</text>
<rect x="301.2" y="461.6" width="189" height="155.6" fill="#fff" stroke="#000" stroke-width="2"/>
<line x1="324.6" y1="473.4" x2="467.3" y2="610.4" stroke="#000" stroke-width="2.3" stroke-dasharray="7 5"/>
<circle cx="340.5" cy="491.8" r="4.3" fill="#7D4B8C"/>
<circle cx="375.7" cy="522.7" r="4.3" fill="#7D4B8C"/>
<circle cx="411.5" cy="557.8" r="4.3" fill="#7D4B8C"/>
<circle cx="442.1" cy="586.4" r="4.3" fill="#7D4B8C"/>
<text class="dv" x="344.6" y="485.7" font-size="15.8" text-anchor="middle">4</text>
<text class="dv" x="380.5" y="518.0" font-size="15.8" text-anchor="middle">3</text>
<text class="dv" x="416.9" y="550.4" font-size="15.8" text-anchor="middle">2</text>
<text class="dv" x="448.1" y="580.9" font-size="15.8" text-anchor="middle">1</text>
<text transform="translate(291.8,572.2) rotate(-90)" font-size="18.6">ln(e<tspan font-size="14.5" dy="3.8">n</tspan><tspan dy="-3.8">/</tspan><tspan font-style="italic">T</tspan><tspan font-size="14.5" dy="-7.5">2</tspan><tspan dy="7.5">)</tspan></text>
<text x="365.8" y="635" font-size="18.7">1000/<tspan font-style="italic">T</tspan></text>
</svg>
</body></html>
